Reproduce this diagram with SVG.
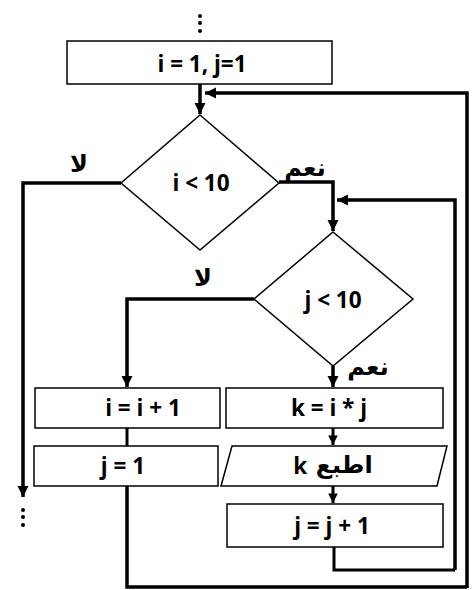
<svg xmlns="http://www.w3.org/2000/svg" width="474" height="590" viewBox="0 0 474 590">
<defs>
<style>
.shape{fill:#fff;stroke:#000;stroke-width:1.5}
.conn{fill:none;stroke:#000;stroke-width:3.5}
.thin{fill:none;stroke:#000;stroke-width:3}
.t{font-family:"Open Sans","Liberation Sans",sans-serif;font-weight:bold;font-size:22.5px;text-anchor:middle;dominant-baseline:central}
.ar{font-family:"DejaVu Sans",sans-serif;font-weight:bold;font-size:24px;text-anchor:middle;dominant-baseline:central}
</style>
<marker id="ah" viewBox="0 0 10 10" refX="10" refY="5" markerWidth="3.2" markerHeight="3.2" orient="auto" markerUnits="strokeWidth">
<path d="M0,0 L10,5 L0,10 z" fill="#000"/>
</marker>
</defs>
<rect width="474" height="590" fill="#fff"/>
<g id="connectors">
<path class="conn" d="M200,84 V114" marker-end="url(#ah)"/>
<path class="conn" d="M467,588 V93 H205" marker-end="url(#ah)"/>
<path class="conn" d="M121,183 H23 V497" marker-end="url(#ah)"/>
<path class="conn" d="M279,182 H333 V231" marker-end="url(#ah)"/>
<path class="conn" d="M455,570 V200 H337" marker-end="url(#ah)"/>
<path class="conn" d="M254,299 H127 V387" marker-end="url(#ah)"/>
<path class="conn" d="M333,366 V387" marker-end="url(#ah)"/>
<path class="thin" d="M127,428 V446"/>
<path class="thin" d="M333,428 V445" marker-end="url(#ah)"/>
<path class="thin" d="M333,486 V503" marker-end="url(#ah)"/>
<path class="thin" d="M334,547 V570 H455"/>
<path class="conn" d="M127,486 V587 H467"/>
<g fill="#000">
<circle cx="200" cy="16" r="2"/><circle cx="200" cy="23" r="2"/><circle cx="200" cy="31" r="2"/>
<circle cx="23" cy="510" r="2"/><circle cx="23" cy="517" r="2"/><circle cx="23" cy="525" r="2"/>
</g>
<text class="ar" x="79" y="164">لا</text>
<text class="ar" x="305" y="168">نعم</text>
<text class="ar" x="203" y="278">لا</text>
<text class="ar" x="368" y="367">نعم</text>
</g>
<g id="init">
<rect class="shape" x="67" y="41" width="265" height="43"/>
<text class="t" x="202" y="63">i = 1, j=1</text>
</g>
<g id="cond-i">
<polygon class="shape" points="200,115 279,183 200,250 121,183"/>
<text class="t" x="201" y="182">i &lt; 10</text>
</g>
<g id="cond-j">
<polygon class="shape" points="333,232 413,299 333,366 254,299"/>
<text class="t" x="333" y="299">j &lt; 10</text>
</g>
<g id="inc-i">
<rect class="shape" x="35" y="388" width="185" height="40"/>
<text class="t" x="143" y="407">i = i + 1</text>
</g>
<g id="reset-j">
<rect class="shape" x="34" y="446" width="184" height="40"/>
<text class="t" x="123" y="465">j = 1</text>
</g>
<g id="mult">
<rect class="shape" x="226" y="388" width="217" height="40"/>
<text class="t" x="329" y="407">k = i * j</text>
</g>
<g id="print">
<polygon class="shape" points="232,446 447,446 437,486 221,486"/>
<text class="ar" x="333" y="465" direction="rtl" unicode-bidi="embed">اطبع <tspan font-family="Open Sans" font-size="22.5">k</tspan></text>
</g>
<g id="inc-j">
<rect class="shape" x="227" y="504" width="216" height="43"/>
<text class="t" x="332" y="525">j = j + 1</text>
</g>
</svg>
